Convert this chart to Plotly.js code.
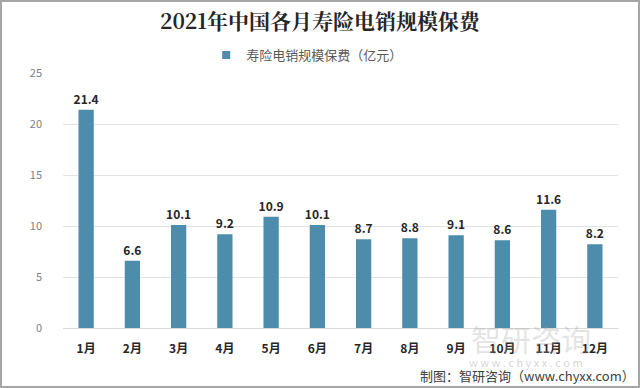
<!DOCTYPE html>
<html><head><meta charset="utf-8">
<script src="https://cdn.plot.ly/plotly-3.0.1.min.js"></script>
<style>
html,body{margin:0;padding:0;background:#fff;}
#wrap{width:640px;height:388px;box-sizing:border-box;border:2px solid #a6a6a6;position:relative;overflow:hidden;}
#chart{position:absolute;left:-2px;top:-2px;width:640px;height:388px;}
</style></head>
<body><div id="wrap"><div id="chart"></div></div>
<script>
const months = ["1月","2月","3月","4月","5月","6月","7月","8月","9月","10月","11月","12月"];
const premiums = [21.4, 6.6, 10.1, 9.2, 10.9, 10.1, 8.7, 8.8, 9.1, 8.6, 11.6, 8.2];
const seriesName = "寿险电销规模保费（亿元）";
const yTicks = [0, 5, 10, 15, 20, 25];

const font = '"Noto Sans CJK SC", "Microsoft YaHei", sans-serif';
const barColor = "#4d8cab";
const trace = {
  type: "bar",
  x: months,
  y: premiums,
  name: seriesName,
  showlegend: false,
  marker: {color: barColor},
  text: premiums.map(v => v.toFixed(1)),
  textposition: "outside",
  constraintext: "none",
  cliponaxis: false,
  textfont: {family: font, size: 12, color: "#262626", weight: "bold"},
  hoverinfo: "x+y"
};
const legendTrace = {
  type: "scatter", mode: "markers", x: [null], y: [null], name: seriesName,
  marker: {symbol: "square", size: 8, color: barColor}, showlegend: true
};
const layout = {
  width: 640, height: 388,
  margin: {l: 63, r: 22, t: 73, b: 60},
  paper_bgcolor: "rgba(0,0,0,0)",
  plot_bgcolor: "rgba(0,0,0,0)",
  bargap: 0.67,
  showlegend: true,
  legend: {orientation: "h", x: 0.44, xanchor: "center", y: 1.07, yanchor: "middle",
           xref: "paper", font: {family: font, size: 13, color: "#595959"},
           itemwidth: 30},
  title: {text: "<b>2021年中国各月寿险电销规模保费</b>", x: 0.5, xanchor: "center", y: 0.943, yanchor: "middle",
          font: {family: '"Noto Serif CJK SC", "Noto Sans CJK SC", serif', size: 21, color: "#262626"}},
  xaxis: {type: "category", showgrid: false, showline: true, linecolor: "#d9d9d9", linewidth: 1,
          ticks: "", tickfont: {family: font, size: 12, color: "#262626", weight: "bold"}, ticklabelstandoff: 10},
  yaxis: {range: [0, 25], tickvals: yTicks, showgrid: true, gridcolor: "#e3e3e3", zeroline: false,
          showline: false, ticks: "", tickfont: {family: font, size: 11, color: "#808080"}, ticklabelstandoff: 20},
  annotations: [
    {text: "制图：智研咨询（www.chyxx.com）", xref: "paper", yref: "paper", x: 1.035, xanchor: "right",
     y: -0.185, yanchor: "middle", showarrow: false, font: {family: font, size: 13, color: "#404040"}},
    {text: "智研咨询", xref: "paper", yref: "paper", x: 0.955, xanchor: "right", y: -0.04, yanchor: "middle",
     showarrow: false, font: {family: font, size: 30, color: "rgba(160,160,160,0.3)"}},
    {text: "w w w . c h y x x . c o m", xref: "paper", yref: "paper", x: 0.94, xanchor: "right", y: -0.135, yanchor: "middle",
     showarrow: false, font: {family: font, size: 11, color: "rgba(160,160,160,0.45)"}}
  ]
};
Plotly.newPlot("chart", [trace, legendTrace], layout, {displayModeBar: false, staticPlot: true});
</script></body></html>
